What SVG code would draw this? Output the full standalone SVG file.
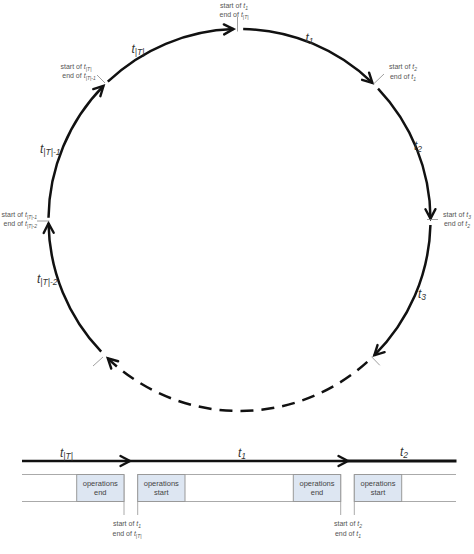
<svg xmlns="http://www.w3.org/2000/svg" width="474" height="554" viewBox="0 0 474 554">
<defs>
<marker id="chev" viewBox="-12 -7 14 14" refX="0" refY="0" markerWidth="14" markerHeight="14" markerUnits="userSpaceOnUse" orient="auto" overflow="visible">
<path d="M-9.5,-5 L0,0 L-9.5,5" fill="none" stroke="#111" stroke-width="2.4" stroke-linecap="round"/>
</marker>
</defs>
<style>
.seg{fill:none;stroke:#111;stroke-width:2.5;marker-end:url(#chev)}
.dash{stroke-dasharray:13 8}
.tick{stroke:#888;stroke-width:0.8;fill:none}
.lbl{font-family:"Liberation Sans",Arial,sans-serif;font-size:7px;fill:#555}
.tl{font-family:"Liberation Sans",Arial,sans-serif;font-size:12px;font-style:italic;fill:#333}
.row{stroke:#aaa;stroke-width:1;fill:none}
.box{fill:#dde6f2;stroke:#999;stroke-width:1}
.bt{font-family:"Liberation Sans",Arial,sans-serif;font-size:7.5px;fill:#444;text-anchor:middle}
.c{text-anchor:middle}
.e{text-anchor:end}
</style>
<rect width="474" height="554" fill="#fff"/>

<g id="connectors">
<path class="seg" d="M107.79,81.68 A191,191 0 0 1 233.5,29.09"/>
<path class="seg" d="M243.17,29.03 A191,191 0 0 1 372.42,82.84"/>
<path class="seg" d="M378.05,88.52 A191,191 0 0 1 430.5,218.67"/>
<path class="seg" d="M430.43,225 A191,191 0 0 1 374.33,355.29"/>
<path class="seg dash" d="M367.3,361.93 A191,191 0 0 1 107.79,358.32"/>
<path class="seg" d="M101.18,351.71 A191,191 0 0 1 48.53,223.33"/>
<path class="seg" d="M48.51,217.67 A191,191 0 0 1 103.51,85.88"/>
<line class="seg" x1="22" y1="461" x2="130" y2="461" stroke-width="3"/>
<line class="seg" x1="130" y1="461" x2="348" y2="461" stroke-width="3"/>
<line x1="348" y1="461" x2="456.5" y2="461" stroke="#111" stroke-width="3"/>
</g>

<g id="ticks">
<line class="tick" x1="237.5" y1="31.5" x2="237.5" y2="17"/>
<line class="tick" x1="373" y1="84.5" x2="384" y2="74"/>
<line class="tick" x1="427" y1="219.5" x2="438" y2="219.5"/>
<line class="tick" x1="371.5" y1="356.7" x2="379.8" y2="365.3"/>
<line class="tick" x1="103" y1="357" x2="93" y2="366"/>
<line class="tick" x1="37" y1="221" x2="49.5" y2="221"/>
<line class="tick" x1="105" y1="83" x2="97" y2="75"/>
</g>

<g id="boundary-top">
<text class="lbl c" x="234" y="8">start of <tspan font-style="italic">t</tspan><tspan font-size="5" font-style="italic" dy="1.5">1</tspan></text>
<text class="lbl c" x="234" y="17">end of <tspan font-style="italic">t</tspan><tspan font-size="5" font-style="italic" dy="1.5">|T|</tspan></text>
</g>
<g id="boundary-1-2">
<text class="lbl c" x="403" y="69">start of <tspan font-style="italic">t</tspan><tspan font-size="5" font-style="italic" dy="1.5">2</tspan></text>
<text class="lbl c" x="403" y="79">end of <tspan font-style="italic">t</tspan><tspan font-size="5" font-style="italic" dy="1.5">1</tspan></text>
</g>
<g id="boundary-2-3">
<text class="lbl c" x="457" y="217">start of <tspan font-style="italic">t</tspan><tspan font-size="5" font-style="italic" dy="1.5">3</tspan></text>
<text class="lbl c" x="457" y="226">end of <tspan font-style="italic">t</tspan><tspan font-size="5" font-style="italic" dy="1.5">2</tspan></text>
</g>
<g id="boundary-left">
<text class="lbl e" x="37" y="217">start of <tspan font-style="italic">t</tspan><tspan font-size="5" font-style="italic" dy="1.5">|T|-1</tspan></text>
<text class="lbl e" x="37" y="226">end of <tspan font-style="italic">t</tspan><tspan font-size="5" font-style="italic" dy="1.5">|T|-2</tspan></text>
</g>
<g id="boundary-upper-left">
<text class="lbl c" x="76" y="69">start of <tspan font-style="italic">t</tspan><tspan font-size="5" font-style="italic" dy="1.5">|T|</tspan></text>
<text class="lbl c" x="79" y="78">end of <tspan font-style="italic">t</tspan><tspan font-size="5" font-style="italic" dy="1.5">|T|-1</tspan></text>
</g>

<g id="segment-labels">
<text class="tl" x="131.5" y="53">t<tspan font-size="8.5" dy="2">|T|</tspan></text>
<text class="tl" x="305.5" y="42">t<tspan font-size="8.5" dy="2">1</tspan></text>
<text class="tl" x="414" y="150">t<tspan font-size="8.5" dy="2">2</tspan></text>
<text class="tl" x="418" y="298">t<tspan font-size="8.5" dy="2">3</tspan></text>
<text class="tl" x="40" y="153">t<tspan font-size="8.5" dy="2">|T|-1</tspan></text>
<text class="tl" x="37" y="283">t<tspan font-size="8.5" dy="2">|T|-2</tspan></text>
</g>

<g id="timeline-labels">
<text class="tl" x="60" y="457">t<tspan font-size="8.5" dy="2">|T|</tspan></text>
<text class="tl" x="238" y="457">t<tspan font-size="8.5" dy="2">1</tspan></text>
<text class="tl" x="400" y="456">t<tspan font-size="8.5" dy="2">2</tspan></text>
</g>

<g id="rows">
<path class="row" d="M22,474.5 H124 M137.7,474.5 H340.7 M354.3,474.5 H456 M22,501.5 H124 M137.7,501.5 H340.7 M354.3,501.5 H456"/>
<path class="row" d="M124,474.5 V515 M137.7,474.5 V515 M340.7,474.5 V515 M354.3,474.5 V515"/>
</g>

<g id="ops-end-1">
<rect class="box" x="76.7" y="474.5" width="47.3" height="27"/>
<text class="bt" x="100.3" y="486">operations</text>
<text class="bt" x="100.3" y="495">end</text>
</g>
<g id="ops-start-1">
<rect class="box" x="137.7" y="474.5" width="47.3" height="27"/>
<text class="bt" x="161.3" y="486">operations</text>
<text class="bt" x="161.3" y="495">start</text>
</g>
<g id="ops-end-2">
<rect class="box" x="293.3" y="474.5" width="47.4" height="27"/>
<text class="bt" x="317" y="486">operations</text>
<text class="bt" x="317" y="495">end</text>
</g>
<g id="ops-start-2">
<rect class="box" x="354.3" y="474.5" width="47.4" height="27"/>
<text class="bt" x="378" y="486">operations</text>
<text class="bt" x="378" y="495">start</text>
</g>

<g id="timeline-boundary-1">
<text class="lbl c" x="127" y="526">start of <tspan font-style="italic">t</tspan><tspan font-size="5" font-style="italic" dy="1.5">1</tspan></text>
<text class="lbl c" x="127" y="536">end of <tspan font-style="italic">t</tspan><tspan font-size="5" font-style="italic" dy="1.5">|T|</tspan></text>
</g>
<g id="timeline-boundary-2">
<text class="lbl c" x="348" y="526">start of <tspan font-style="italic">t</tspan><tspan font-size="5" font-style="italic" dy="1.5">2</tspan></text>
<text class="lbl c" x="348" y="536">end of <tspan font-style="italic">t</tspan><tspan font-size="5" font-style="italic" dy="1.5">1</tspan></text>
</g>
</svg>
